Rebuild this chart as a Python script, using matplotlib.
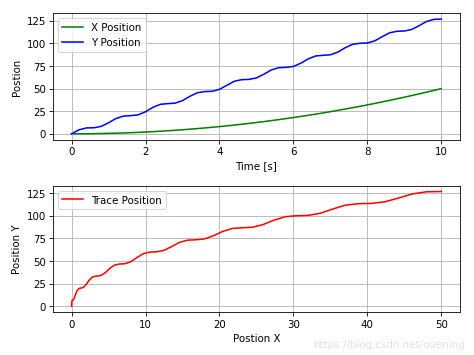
import numpy as np
import matplotlib
matplotlib.use('Agg')
import matplotlib.pyplot as plt

# sample times (every 0.2 s)
time = np.linspace(0, 10, 51)

# x position
x_pos = [0, 0.02, 0.08, 0.18, 0.32, 0.5, 0.72, 0.98, 1.28, 1.62,
         2.0, 2.42, 2.88, 3.38, 3.92, 4.5, 5.12, 5.78, 6.48, 7.22,
         8.0, 8.82, 9.68, 10.58, 11.52, 12.5, 13.52, 14.58, 15.68, 16.82,
         18.0, 19.22, 20.48, 21.78, 23.12, 24.5, 25.92, 27.38, 28.88, 30.42,
         32.0, 33.62, 35.28, 36.98, 38.72, 40.5, 42.32, 44.18, 46.08, 48.02,
         50.0]

# y position
y_pos = [0, 4.4, 6.5, 6.7, 8.2, 12.2, 16.9, 19.6, 20.1, 21.0,
         24.4, 29.3, 32.6, 33.4, 33.9, 36.7, 41.5, 45.4, 46.7, 47.0,
         49.2, 53.7, 58.1, 59.9, 60.2, 61.8, 65.9, 70.6, 73.1, 73.5,
         74.5, 78.1, 82.9, 86.1, 86.8, 87.4, 90.4, 95.2, 99.0, 100.1,
         100.5, 102.8, 107.4, 111.7, 113.4, 113.7, 115.4, 119.6, 124.2, 126.6,
         126.9]

fig, (ax1, ax2) = plt.subplots(2, 1, figsize=(6.4, 4.8), dpi=74.07)
fig.subplots_adjust(left=0.112, right=0.970, top=0.961, bottom=0.121, hspace=0.366)

ax1.plot(time, x_pos, color='g', label='X Position')
ax1.plot(time, y_pos, color='b', label='Y Position')
ax1.set_xlabel('Time [s]')
ax1.set_ylabel('Postion')
ax1.set_yticks([0, 25, 50, 75, 100, 125])
ax1.grid(True)
ax1.legend(loc='upper left')

ax2.plot(x_pos, y_pos, color='r', label='Trace Position')
ax2.set_xlabel('Postion X')
ax2.set_ylabel('Position Y')
ax2.set_yticks([0, 25, 50, 75, 100, 125])
ax2.grid(True)
ax2.legend(loc='upper left')

fig.text(0.98, 0.015, 'https://blog.csdn.net/ouening', ha='right', va='bottom',
         fontsize=10, color='#e0e0e0')

fig.savefig('out.png', dpi=74.07)
